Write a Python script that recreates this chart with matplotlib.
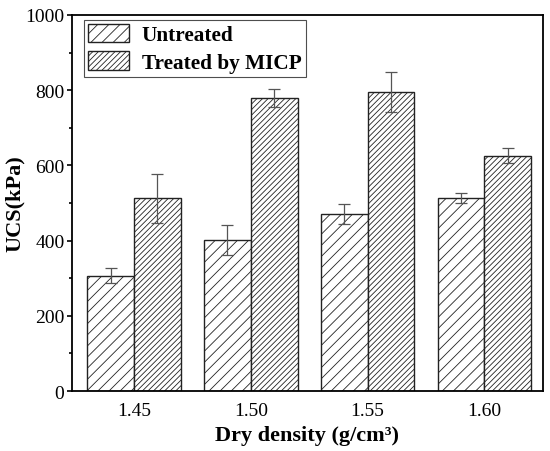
import matplotlib
matplotlib.use("Agg")
import matplotlib.pyplot as plt
import numpy as np
from matplotlib.ticker import MultipleLocator

categories = ["1.45", "1.50", "1.55", "1.60"]
untreated = [306, 402, 471, 513]
untreated_err = [20, 40, 26, 14]
treated = [513, 779, 796, 626]
treated_err = [65, 23, 53, 20]
series_labels = ["Untreated", "Treated by MICP"]

plt.rcParams['font.family'] = ['Liberation Serif', 'DejaVu Serif']
plt.rcParams['hatch.linewidth'] = 0.6
plt.rcParams['hatch.color'] = '#333333'

fig = plt.figure(figsize=(5.5, 4.52), dpi=100)
ax = fig.add_axes([0.131, 0.1327, 0.856, 0.832])

x = np.arange(len(categories))
w = 0.4
ax.bar(x - w/2, untreated, w, yerr=untreated_err, color='white', edgecolor='#222222',
       linewidth=1.0, hatch='///', label=series_labels[0],
       error_kw=dict(ecolor='#555555', elinewidth=0.9, capsize=4, capthick=0.9))
ax.bar(x + w/2, treated, w, yerr=treated_err, color='white', edgecolor='#222222',
       linewidth=1.0, hatch='//////', label=series_labels[1],
       error_kw=dict(ecolor='#555555', elinewidth=0.9, capsize=4, capthick=0.9))

ax.set_xlim(-0.53, 3.5)
ax.set_ylim(0, 1000)
ax.set_xticks(x)
ax.set_xticklabels(categories)
ax.yaxis.set_major_locator(MultipleLocator(200))
ax.yaxis.set_minor_locator(MultipleLocator(100))
ax.tick_params(axis='y', which='major', direction='out', length=3.5, width=1.2, labelsize=14, pad=2)
ax.tick_params(axis='y', which='minor', direction='out', length=2.5, width=1.2)
ax.tick_params(axis='x', which='both', length=0, labelsize=14, pad=8)
for s in ax.spines.values():
    s.set_linewidth(1.3)

ax.set_xlabel("Dry density (g/cm³)", fontsize=16, fontweight='bold', labelpad=4)
ax.set_ylabel("UCS(kPa)", fontsize=16, fontweight='bold')
ax.yaxis.set_label_coords(-0.10, 0.5)

leg = ax.legend(loc='upper left', bbox_to_anchor=(0.025, 0.987), fontsize=15.3,
                frameon=True, fancybox=False, edgecolor='#222222',
                handlelength=1.93, handleheight=0.94, borderaxespad=0,
                borderpad=0.2, labelspacing=0.28, handletextpad=0.6)
leg.get_frame().set_linewidth(0.8)
for t in leg.get_texts():
    t.set_fontweight('bold')

fig.savefig("out.png", dpi=100)
